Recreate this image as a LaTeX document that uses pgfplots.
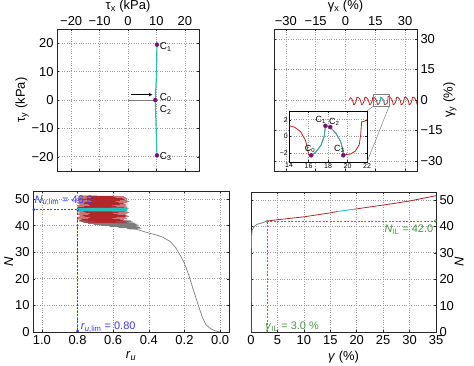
\documentclass[border=0pt]{standalone}
\usepackage{fontspec}
\setmainfont{Liberation Sans}
\usepackage{pgfplots}
\pgfplotsset{compat=1.18}
\usepackage{pgfplotstable}
\definecolor{myred}{RGB}{178,40,40}
\definecolor{mycyan}{RGB}{40,190,190}
\definecolor{mypurple}{RGB}{120,20,120}
\definecolor{myblue}{RGB}{60,60,230}
\definecolor{mygreen}{RGB}{70,150,70}
\definecolor{mygray}{RGB}{125,125,125}
\newcommand{\lf}{\fontsize{13}{15}\selectfont}

\pgfplotstableread{
x y
2.0 0.0
2.3 1.0
2.6 1.1
3.2 0.5
3.6 -0.4
3.9 -1.4
4.0 -2.2
4.3 -2.3
4.8 -1.8
5.2 -1.0
5.5 0.1
5.7 1.3
6.0 1.4
6.6 1.1
7.2 0.5
7.6 -0.4
7.9 -1.4
8.0 -2.2
8.3 -2.3
8.8 -1.8
9.2 -1.0
9.5 0.1
9.7 1.3
10.0 1.4
10.6 1.1
11.2 0.5
11.6 -0.4
11.9 -1.4
12.0 -2.2
12.3 -2.3
12.8 -1.8
13.2 -1.0
13.5 0.1
13.7 1.3
14.0 1.3
14.6 1.1
15.2 0.55
15.67 -0.4
15.9 -1.36
16.0 -2.2
16.3 -2.3
16.8 -1.8
17.3 -1.0
17.6 0.0
17.75 1.3
18.2 1.15
18.8 0.4
19.3 -0.6
19.5 -1.5
19.6 -2.2
20.3 -2.1
20.8 -1.75
21.2 -1.0
21.35 0.2
21.45 1.75
22.0 1.9
22.6 1.1
23.2 0.5
23.6 -0.4
23.9 -1.4
24.0 -2.2
24.3 -2.3
24.8 -1.8
25.2 -1.0
25.5 0.1
25.7 1.3
26.0 1.4
26.6 1.1
27.2 0.5
27.6 -0.4
27.9 -1.4
28.0 -2.2
28.3 -2.3
28.8 -1.8
29.2 -1.0
29.5 0.1
29.7 1.3
30.0 1.4
30.6 1.1
31.2 0.5
31.6 -0.4
31.9 -1.4
32.0 -2.2
32.3 -2.3
32.8 -1.8
33.2 -1.0
33.5 0.1
33.7 1.3
34.0 1.4
34.6 1.1
35.2 0.5
35.6 -0.4
35.9 -1.4
36.0 -2.2
}\wave

\pgfplotstableread{
x y
16.3 -2.3
16.8 -1.8
17.3 -1.0
17.6 0.0
17.75 1.3
18.2 1.15
18.8 0.4
19.3 -0.6
19.5 -1.5
19.6 -2.2
}\cyanwave

\pgfplotstableread{
ru N
0.00 0
0.02 0.3
0.04 0.8
0.06 1.6
0.08 2.8
0.10 5.6
0.12 9.6
0.15 15.9
0.18 22.2
0.20 25.8
0.22 28.4
0.25 31.8
0.28 34.0
0.32 35.6
0.36 36.5
0.40 37.2
0.43 37.8
0.47 38.6
0.52 38.8
0.44 39.0
0.57 39.2
0.45 39.4
0.62 39.6
0.46 39.8
0.67 40.0
0.46 40.2
0.71 40.4
0.47 40.6
0.74 40.8
0.48 41.0
0.77 41.2
0.49 41.4
0.79 41.6
0.50 41.8
0.79 42.0
}\rugray

\pgfplotstableread{
ru N
0.52 41.0
0.76 41.2
0.53 41.4
0.78 41.6
0.52 41.8
0.79 42.0
0.54 42.2
0.80 42.4
0.52 42.6
0.80 42.8
0.53 43.0
0.80 43.2
0.51 43.4
0.79 43.6
0.52 43.8
0.80 44.0
0.53 44.2
0.80 44.4
0.52 44.6
0.79 44.8
0.51 45.0
0.80 45.2
0.52 45.4
0.80 45.6
0.53 45.8
0.80 46.0
0.52 46.2
0.79 46.4
0.51 46.6
0.80 46.8
0.52 47.0
0.80 47.2
0.53 47.4
0.80 47.6
0.52 47.8
0.79 48.0
0.53 48.2
0.80 48.4
0.52 48.6
0.80 48.8
0.51 49.0
0.79 49.2
0.52 49.4
0.80 49.6
0.53 49.8
0.80 50.0
0.52 50.2
0.79 50.4
0.53 50.6
0.80 50.8
0.54 51.0
0.79 51.2
}\rured

\pgfplotstableread{
ru N
0.52 45.4
0.80 45.6
0.52 45.8
0.80 46.0
0.52 46.2
0.80 46.4
0.52 46.6
}\rucyan

\pgfplotsset{
  every axis/.append style={
    scale only axis,
    axis line style={line width=0.9pt, black!85},
    grid=major,
    grid style={dotted, line width=0.6pt, black!40},
    tick style={black!85, line width=0.5pt},
    major tick length=2pt,
    tick align=inside,
    tick label style={font=\fontsize{13}{15}\selectfont},
    /pgf/number format/assume math mode=true,
    xlabel near ticks, ylabel near ticks,
  },
}

\begin{document}
\begin{tikzpicture}
\path[use as bounding box] (0,0) rectangle (474bp,366bp);

% ---------------- top left
\begin{axis}[name=tl, anchor=south west, at={(57bp,195bp)},
  width=142bp, height=142bp,
  xmin=-25, xmax=25, ymin=-25, ymax=25,
  xtick={-20,-10,0,10,20}, xticklabels={−20,−10,0,10,20},
  ytick={-20,-10,0,10,20}, yticklabels={−20,−10,0,10,20},
  xticklabel pos=upper,
  xlabel={\lf τ\textsubscript{x} (kPa)}, ylabel={\lf τ\textsubscript{y} (kPa)},
  xlabel style={yshift=-3bp}, ylabel shift=-4bp]
\addplot[mygray, line width=0.8pt] coordinates {(0,0) (9.6,0)};
\addplot[->, >=stealth, black, line width=0.7pt] coordinates {(1,1.9) (8.6,1.9)};
\addplot[mycyan, line width=1.2pt] coordinates {(10.2,19.5) (10.0,8) (9.6,0) (9.8,-6) (10.2,-19.5)};
\addplot[only marks, mark=*, mark size=2pt, mypurple] coordinates {(10.2,19.5) (9.6,0) (10.2,-19.5)};
\node[anchor=west, font=\fontsize{10}{11}\selectfont, inner sep=1pt] at (axis cs:10.8,18.6) {C\textsubscript{1}};
\node[anchor=west, font=\fontsize{10}{11}\selectfont, inner sep=1pt] at (axis cs:10.8,0.8) {C\textsubscript{0}};
\node[anchor=west, font=\fontsize{10}{11}\selectfont, inner sep=1pt] at (axis cs:10.8,-3.6) {C\textsubscript{2}};
\node[anchor=west, font=\fontsize{10}{11}\selectfont, inner sep=1pt] at (axis cs:10.8,-19.9) {C\textsubscript{3}};
\end{axis}

% ---------------- top right
\begin{axis}[name=tr, anchor=south west, at={(274bp,195bp)},
  width=143bp, height=142bp,
  xmin=-36, xmax=36, ymin=-35, ymax=35,
  xtick={-30,-15,0,15,30}, xticklabels={−30,−15,0,15,30},
  ytick={-30,-15,0,15,30}, yticklabels={−30,−15,0,15,30},
  xticklabel pos=upper, yticklabel pos=upper,
  xlabel={\lf γ\textsubscript{x} (\%)}, ylabel={\lf γ\textsubscript{y} (\%)},
  xlabel style={yshift=-3bp}, ylabel shift=-6bp]
\addplot[myred, line width=0.8pt] table[x=x,y=y] {\wave};
\addplot[mycyan, line width=0.8pt] table[x=x,y=y] {\cyanwave};
\addplot[gray, line width=0.5pt] coordinates {(14,-3) (22,-3) (22,3) (14,3) (14,-3)};
\coordinate (rA) at (axis cs:14,-3);
\coordinate (rB) at (axis cs:22,-3);
\end{axis}

% ---------------- inset
\begin{axis}[name=inset, anchor=south west, at={(289bp,204bp)},
  width=78bp, height=51bp,
  xmin=14, xmax=22, ymin=-3.05, ymax=3.05,
  xtick={14,16,18,20,22}, ytick={-2,0,2}, yticklabels={−2,0,2},
  tick label style={font=\fontsize{7}{8}\selectfont, inner sep=1pt},
  axis background/.style={fill=white},
  axis line style={line width=0.9pt, black}]
\addplot[myred, line width=0.8pt] table[x=x,y=y] {\wave};
\addplot[mycyan, line width=0.8pt] table[x=x,y=y] {\cyanwave};
\addplot[only marks, mark=*, mark size=2pt, mypurple] coordinates {(16.27,-2.25) (17.73,1.28) (18.23,1.13) (19.57,-2.25)};
\node[anchor=south, font=\fontsize{9}{10}\selectfont, inner sep=0.5pt] at (axis cs:16.15,-2.05) {C\textsubscript{0}};
\node[anchor=south east, font=\fontsize{9}{10}\selectfont, inner sep=0.5pt] at (axis cs:17.85,1.45) {C\textsubscript{1}};
\node[anchor=south west, font=\fontsize{9}{10}\selectfont, inner sep=0.5pt] at (axis cs:18.05,1.2) {C\textsubscript{2}};
\node[anchor=south east, font=\fontsize{9}{10}\selectfont, inner sep=0.5pt] at (axis cs:19.75,-2.05) {C\textsubscript{3}};
\coordinate (iNE) at (rel axis cs:1,1);
\coordinate (iSE) at (rel axis cs:1,0);
\end{axis}
\draw[gray, line width=0.5pt] (rA) -- (iNE);
\draw[gray, line width=0.5pt] (rB) -- (iSE);

% ---------------- bottom left
\begin{axis}[name=bl, anchor=south west, at={(33bp,34bp)},
  width=196bp, height=141bp,
  x dir=reverse, xmin=-0.05, xmax=1.05, ymin=0, ymax=53,
  xtick={0,0.2,0.4,0.6,0.8,1.0}, xticklabels={0.0,0.2,0.4,0.6,0.8,1.0},
  ytick={0,10,20,30,40,50},
  xlabel={\lf\textit{r}\textsubscript{\textit{u}}}, ylabel={\lf\textit{N}},
  ylabel shift=-5bp]
\addplot[mygray, line width=0.7pt] table[x=ru,y=N] {\rugray};
\addplot[myred, line width=0.5pt] table[x=ru,y=N] {\rured};
\addplot[mycyan, line width=0.9pt] table[x=ru,y=N] {\rucyan};
\addplot[myblue, line width=0.7pt, dash pattern=on 2pt off 1.5pt] coordinates {(1.05,46) (0.8,46)};
\addplot[myblue, line width=0.7pt, dash pattern=on 2pt off 1.5pt] coordinates {(0.8,46) (0.8,0)};
\addplot[only marks, mark=o, mark size=1.3pt, myblue] coordinates {(1.045,46) (0.8,46)};
\addplot[only marks, mark=triangle*, mark size=1.5pt, myblue] coordinates {(0.8,0.5)};
\coordinate (nulab) at (axis cs:1.045,49.4);
\coordinate (rulab) at (axis cs:0.785,1.9);
\end{axis}
\node[anchor=west, myblue, font=\fontsize{11}{12}\selectfont, inner sep=0.5pt] at (nulab) {\textit{N}\textsubscript{\textit{u},lim} = 46.0};
\node[anchor=west, myblue, font=\fontsize{11}{12}\selectfont, inner sep=0.5pt] at (rulab) {\textit{r}\textsubscript{\textit{u},lim} = 0.80};

% ---------------- bottom right
\begin{axis}[name=br, anchor=south west, at={(251bp,34bp)},
  width=185bp, height=140bp,
  xmin=0, xmax=35, ymin=0, ymax=53,
  xtick={0,5,10,15,20,25,30,35}, ytick={0,10,20,30,40,50},
  yticklabel pos=upper,
  xlabel={\lf\textit{γ} (\%)}, ylabel={\lf\textit{N}},
  ylabel shift=-6bp]
\addplot[mygray, line width=0.8pt] coordinates {(0,0) (0.05,30) (0.1,36) (0.2,38.5) (0.5,39.6) (0.8,40.3) (1.2,40.8) (2.1,41.3) (3.0,42.0)};
\addplot[myred, line width=0.8pt] coordinates {(3.0,42.0) (5,42.5) (10,43.6) (15,45.1) (16.3,45.6)};
\addplot[myred, line width=0.8pt] coordinates {(19.6,46.5) (22,47.2) (26.5,48.5) (30,49.6) (35,51.6)};
\addplot[mycyan, line width=0.9pt] coordinates {(16.3,45.6) (19.6,46.5)};
\addplot[mygreen, line width=0.7pt, dash pattern=on 2pt off 1.5pt] coordinates {(3,0) (3,42)};
\addplot[mygreen, line width=0.7pt, dash pattern=on 2pt off 1.5pt] coordinates {(3,42) (35,42)};
\addplot[only marks, mark=o, mark size=1.3pt, mygreen] coordinates {(3,42) (34.9,42)};
\node[anchor=east, mygreen, font=\fontsize{11}{12}\selectfont, inner sep=0.5pt] at (axis cs:34.6,38.8) {\textit{N}\textsubscript{IL} = 42.0};
\node[anchor=west, mygreen, font=\fontsize{11}{12}\selectfont, inner sep=0.5pt] at (axis cs:2.6,1.8) {\textit{γ}\textsubscript{IL} = 3.0 \%};
\end{axis}
\end{tikzpicture}
\end{document}
